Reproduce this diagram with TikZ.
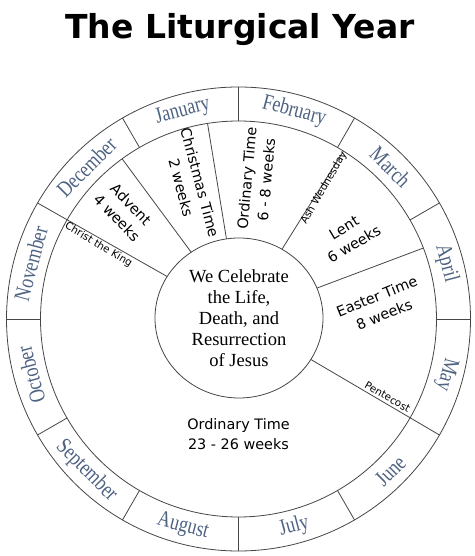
\documentclass[tikz,border=0pt]{standalone}
\usepackage{fontspec}
\setmainfont{DejaVu Sans}
\newfontfamily\centerserif{Liberation Serif}
\newfontfamily\monthfont{Liberation Serif}
\usetikzlibrary{shapes.geometric}
\definecolor{linegray}{RGB}{70,70,70}
\definecolor{monthblue}{RGB}{78,98,130}
\begin{document}
\begin{tikzpicture}[x=1pt,y=1pt,
  ring/.style={circle,draw=linegray,line width=0.8pt,inner sep=0pt,outer sep=0pt},
  divider/.style={draw=linegray,line width=0.8pt},
  season/.style={font=\fontsize{14.4}{19.5}\selectfont,align=center,inner sep=0pt},
  smalllabel/.style={font=\fontsize{10.3}{12}\selectfont,inner sep=0pt},
  month/.style={font=\monthfont\fontsize{22.5}{26}\selectfont,text=monthblue,inner sep=0pt},
]
\useasboundingbox (-238.5,-237) rectangle (235.5,319);
\fill[white] (-238.5,-237) rectangle (235.5,319);

% title
\node[font=\bfseries\fontsize{33}{40}\selectfont,anchor=base,inner sep=0pt] (title) at (1.5,280) {The Liturgical Year};

% rings
\node[ring,minimum size=464pt] (outer) at (0,0) {};
\node[ring,minimum size=396pt] (inner) at (0,0) {};
\node[ellipse,draw=linegray,line width=0.8pt,inner sep=0pt,outer sep=0pt,
      minimum width=168pt,minimum height=160pt,align=center,
      font=\centerserif\fontsize{18.5}{21}\selectfont] (c) at (0.5,1)
      {We Celebrate\\the Life,\\Death, and\\Resurrection\\of Jesus};

% month dividers
\foreach \a in {90,120,180,210,240,270,300,0,30,60}
  \draw[divider] (inner.\a) -- (outer.\a);
% long dividers
\foreach \a in {150,-30}
  \draw[divider] (c.\a) -- (outer.\a);
% season dividers
\foreach \a in {126,99,58,21}
  \draw[divider] (c.\a) -- (inner.\a);

% months
\foreach \m/\a/\r in {January/105/15, February/75/-15, March/45/-45, April/15/-75,
    May/-15/-105, June/-45/45, July/-75/15, August/-105/-15,
    September/-135/-45, October/-165/105, November/165/75, December/135/45}
  \node[month,rotate=\r,xscale=0.8] (m\m) at (\a:215pt) {\m};

% seasons
\node[season,rotate=-46] (advent) at (-114.5,108) {Advent\\4 weeks};
\node[season,rotate=-75] (christmas) at (-48,134) {Christmas Time\\2 weeks};
\node[season,rotate=85] (ord1) at (18,140) {Ordinary Time\\6 - 8 weeks};
\node[season,rotate=31] (lent) at (110.5,83) {Lent\\6 weeks};
\node[season,rotate=22] (easter) at (142,13.7) {Easter Time\\8 weeks};
\node[season] (ord2) at (0,-115) {Ordinary Time\\23 - 26 weeks};

% feast labels
\node[smalllabel,rotate=-31] (king) at (-140,74) {Christ the King};
\node[smalllabel,rotate=60] (ash) at (85.5,131) {Ash Wednesday};
\node[smalllabel,rotate=-30] (pent) at (149,-78) {Pentecost};
\end{tikzpicture}
\end{document}
